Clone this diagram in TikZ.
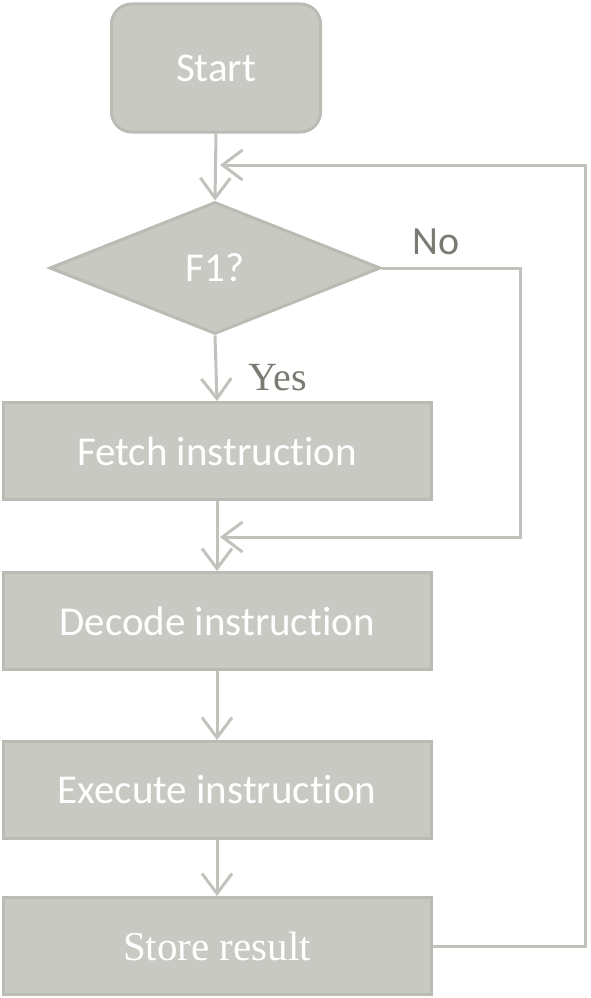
\documentclass[tikz,border=0pt]{standalone}
\usepackage{fontspec}
\setmainfont[Ligatures=NoCommon]{Carlito}
\newfontfamily\serifface{Liberation Serif}
\usetikzlibrary{shapes.geometric,arrows.meta}
\definecolor{boxfill}{HTML}{C9C9C3}
\definecolor{boxline}{HTML}{BBBBB3}
\definecolor{wire}{HTML}{C2C2BC}
\definecolor{labgray}{HTML}{7A7A72}
\tikzset{
  x=1pt,y=-1pt,
  boxtext/.style={text=white,font=\fontsize{41}{48}\selectfont},
  procbox/.style={boxtext,draw=boxline,fill=boxfill,line width=3pt,minimum width=428pt,minimum height=97pt,inner sep=0pt},
  startbox/.style={procbox,rounded corners=20pt,minimum width=209pt,minimum height=128pt},
  decbox/.style={boxtext,diamond,draw=boxline,fill=boxfill,line width=3pt,minimum width=331pt,minimum height=132pt,aspect=2.5,inner sep=0pt},
  flow/.style={draw=wire,line width=3pt,-{Straight Barb[length=20pt,width=30pt,line width=3pt]}},
  lab/.style={text=labgray,font=\fontsize{40}{48}\selectfont,inner sep=0pt}
}
\begin{document}
\begin{tikzpicture}
\useasboundingbox (0,0) rectangle (591,998);
\node[startbox] (start) at (216,68) {Start};
\node[decbox] (dec) at (215,268) {F1?};
\node[procbox] (fetch) at (217,451) {Fetch instruction};
\node[procbox] (decode) at (217,621) {Decode instruction};
\node[procbox] (exec) at (217,790) {Execute instruction};
\node[procbox,font=\serifface\fontsize{41}{48}\selectfont] (store) at (217,946) {Store result};
\coordinate (j1) at (215,165);
\coordinate (j2) at (215,537);
\coordinate (rloop) at (585,946);
\coordinate (rno) at (520,268);
\draw[flow] (start.south) -- (dec.north);
\draw[flow] (dec.south) -- (fetch.north);
\draw[flow] (fetch.south) -- (decode.north);
\draw[flow] (decode.south) -- (exec.north);
\draw[flow] (exec.south) -- (store.north);
\draw[flow,shorten >=5pt] (store.east) -- (rloop) |- (j1);
\draw[flow,shorten >=5pt] (dec.east) -- (rno) |- (j2);
\node[lab] (no) at (436,242) {No};
\node[lab,font=\serifface\fontsize{40}{48}\selectfont] (yes) at (278,378) {Yes};
\end{tikzpicture}
\end{document}
